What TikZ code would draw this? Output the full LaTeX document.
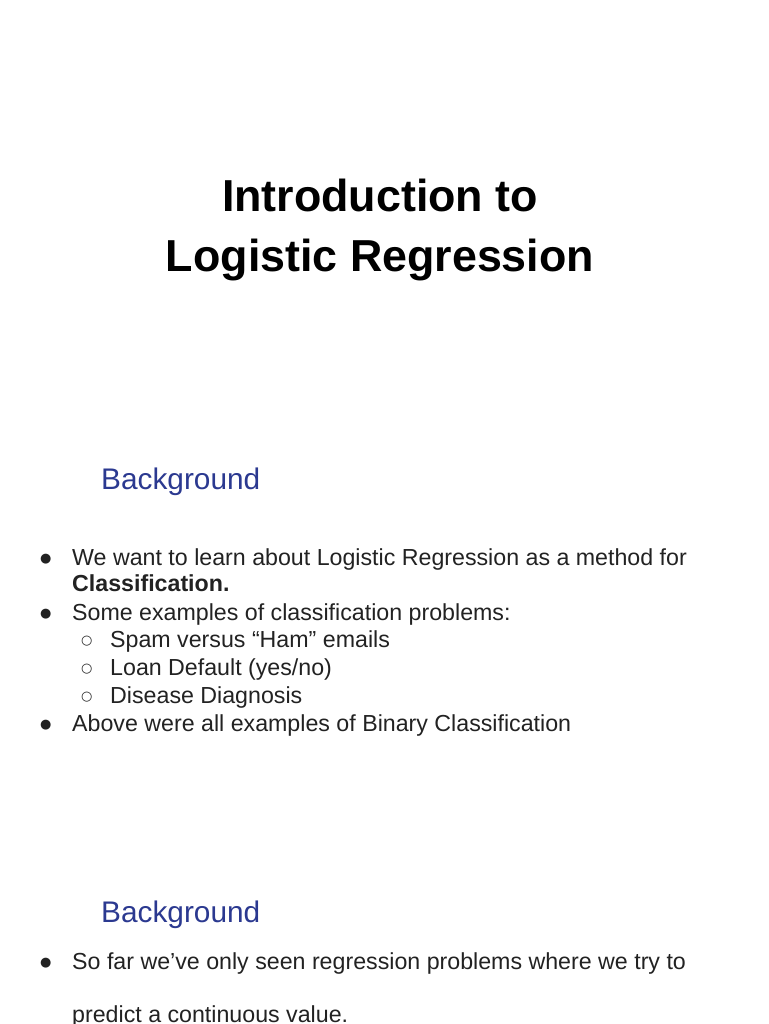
\documentclass[tikz,border=0pt]{standalone}
\usepackage{fontspec}
\setmainfont{Liberation Sans}
\newfontfamily\symfont{DejaVu Sans}
\definecolor{txt}{HTML}{222222}
\definecolor{head}{HTML}{2B3990}
\begin{document}
\begin{tikzpicture}[x=1pt,y=-1pt,
  title/.style={anchor=base,font=\fontsize{44.8}{50}\selectfont\bfseries,text=black,inner sep=0},
  headtxt/.style={anchor=base west,font=\fontsize{29.8}{32}\selectfont,text=head,inner sep=0},
  body/.style={anchor=base west,font=\fontsize{23.2}{26}\selectfont,text=txt,inner sep=0},
  bul/.style={anchor=base west,font=\symfont\fontsize{13}{16}\selectfont,text=txt,inner sep=0}]
\useasboundingbox (0,0) rectangle (768,1024);
\clip (0,0) rectangle (768,1024);
\node[title] (t1) at (380,212) {Introduction to};
\node[title] (t2) at (380,271) {Logistic Regression};
\node[headtxt] (h1) at (101,489) {Background};
\node[bul] (b1) at (40,562) {●};
\node[body] (l1) at (72,565) {We want to learn about Logistic Regression as a method for};
\node[body] (l2) at (72,591) {\bfseries Classification.};
\node[bul] (b2) at (40,617) {●};
\node[body] (l3) at (72,620) {Some examples of classification problems:};
\node[bul] (b3) at (81,644) {○};
\node[body] (l4) at (110,647) {Spam versus “Ham” emails};
\node[bul] (b4) at (81,672) {○};
\node[body] (l5) at (110,675) {Loan Default (yes/no)};
\node[bul] (b5) at (81,700) {○};
\node[body] (l6) at (110,703) {Disease Diagnosis};
\node[bul] (b6) at (40,728) {●};
\node[body] (l7) at (72,731) {Above were all examples of Binary Classification};
\node[headtxt] (h2) at (101,922) {Background};
\node[bul] (b7) at (40,966) {●};
\node[body] (l8) at (72,969) {So far we’ve only seen regression problems where we try to};
\node[body] (l9) at (72,1022) {predict a continuous value.};
\end{tikzpicture}
\end{document}
